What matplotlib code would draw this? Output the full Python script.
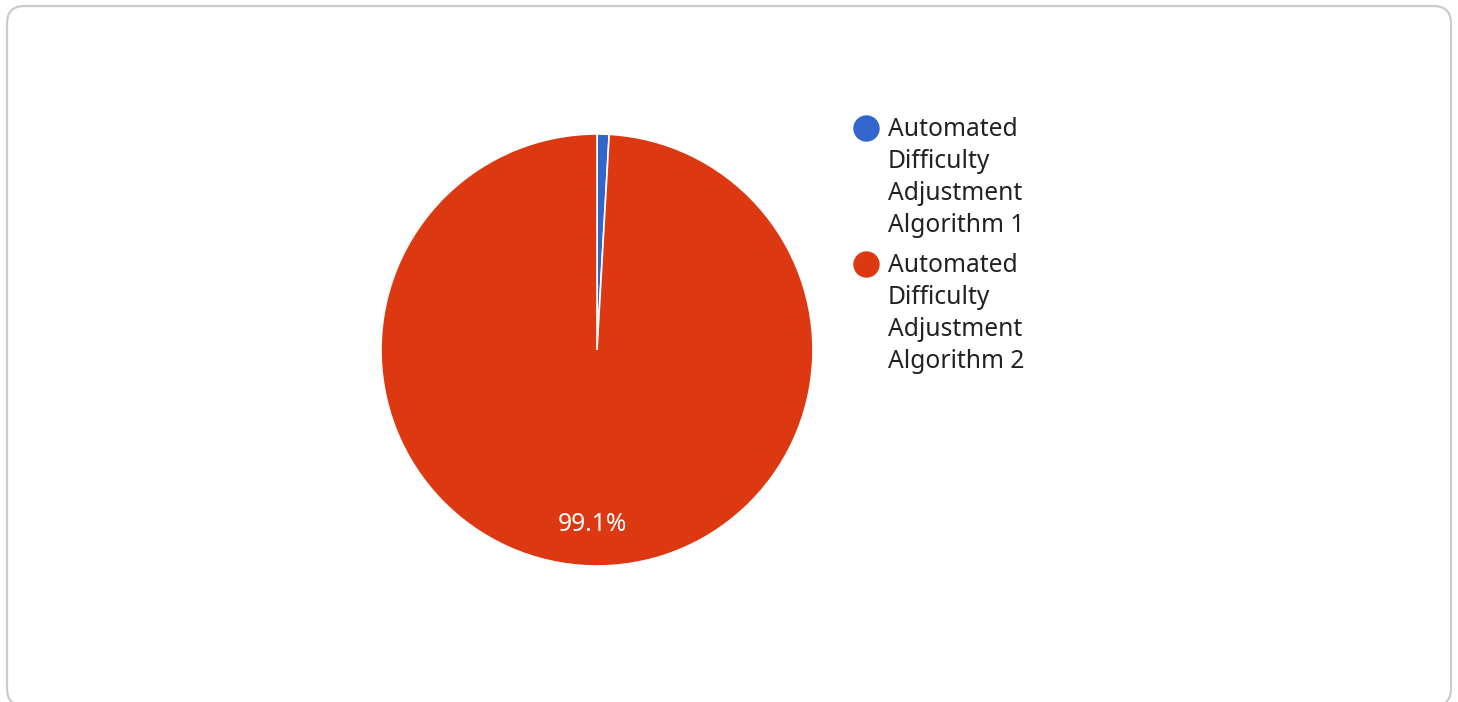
import textwrap
import matplotlib
matplotlib.use("Agg")
import matplotlib.pyplot as plt
from matplotlib.patches import FancyBboxPatch
from matplotlib.lines import Line2D

categories = ["Automated Difficulty Adjustment Algorithm 1",
              "Automated Difficulty Adjustment Algorithm 2"]
values = [0.9, 99.1]
colors = ["#3366CC", "#DC3912"]

W, H = 1458, 702
plt.rcParams['font.family'] = ['Noto Sans', 'DejaVu Sans']
fig = plt.figure(figsize=(W / 100, H / 100), dpi=100)

# rounded border (bottom edge falls just outside the image)
top, bottom, left, right = 6, 706, 7, 1451
fig.patches.append(FancyBboxPatch((left / W, (H - bottom) / H), (right - left) / W, (bottom - top) / H,
                                  boxstyle="round,pad=0,rounding_size=0.012",
                                  transform=fig.transFigure, fill=False,
                                  edgecolor="#cccccc", linewidth=1.6,
                                  mutation_aspect=W / H))

cx, cy, r = 597, 350, 216
ax = fig.add_axes([(cx - r) / W, (H - cy - r) / H, 2 * r / W, 2 * r / H])
ax.set_aspect("equal")


def fmt(p):
    return f"{p:.1f}%" if p > 5 else ""


wedges, texts, autotexts = ax.pie(values, colors=colors, startangle=90, counterclock=False,
                                  autopct=fmt, pctdistance=0.81,
                                  wedgeprops=dict(edgecolor="white", linewidth=1.2))
for t in autotexts:
    t.set_color("white")
    t.set_fontsize(17.7)
ax.set_xlim(-1, 1)
ax.set_ylim(-1, 1)

# legend
y0 = 128
for i, (cat, col) in enumerate(zip(categories, colors)):
    ym = y0 + i * 136
    fig.add_artist(Line2D([866 / W], [1 - ym / H], marker="o", markersize=18,
                          color=col, transform=fig.transFigure, linestyle="none"))
    for j, line in enumerate(textwrap.wrap(cat, 11)):
        fig.text(888 / W, 1 - (ym + 8 + 32 * j) / H, line, fontsize=17.7,
                 color="#222222", va="baseline", ha="left")

fig.savefig("out.png", dpi=100)
